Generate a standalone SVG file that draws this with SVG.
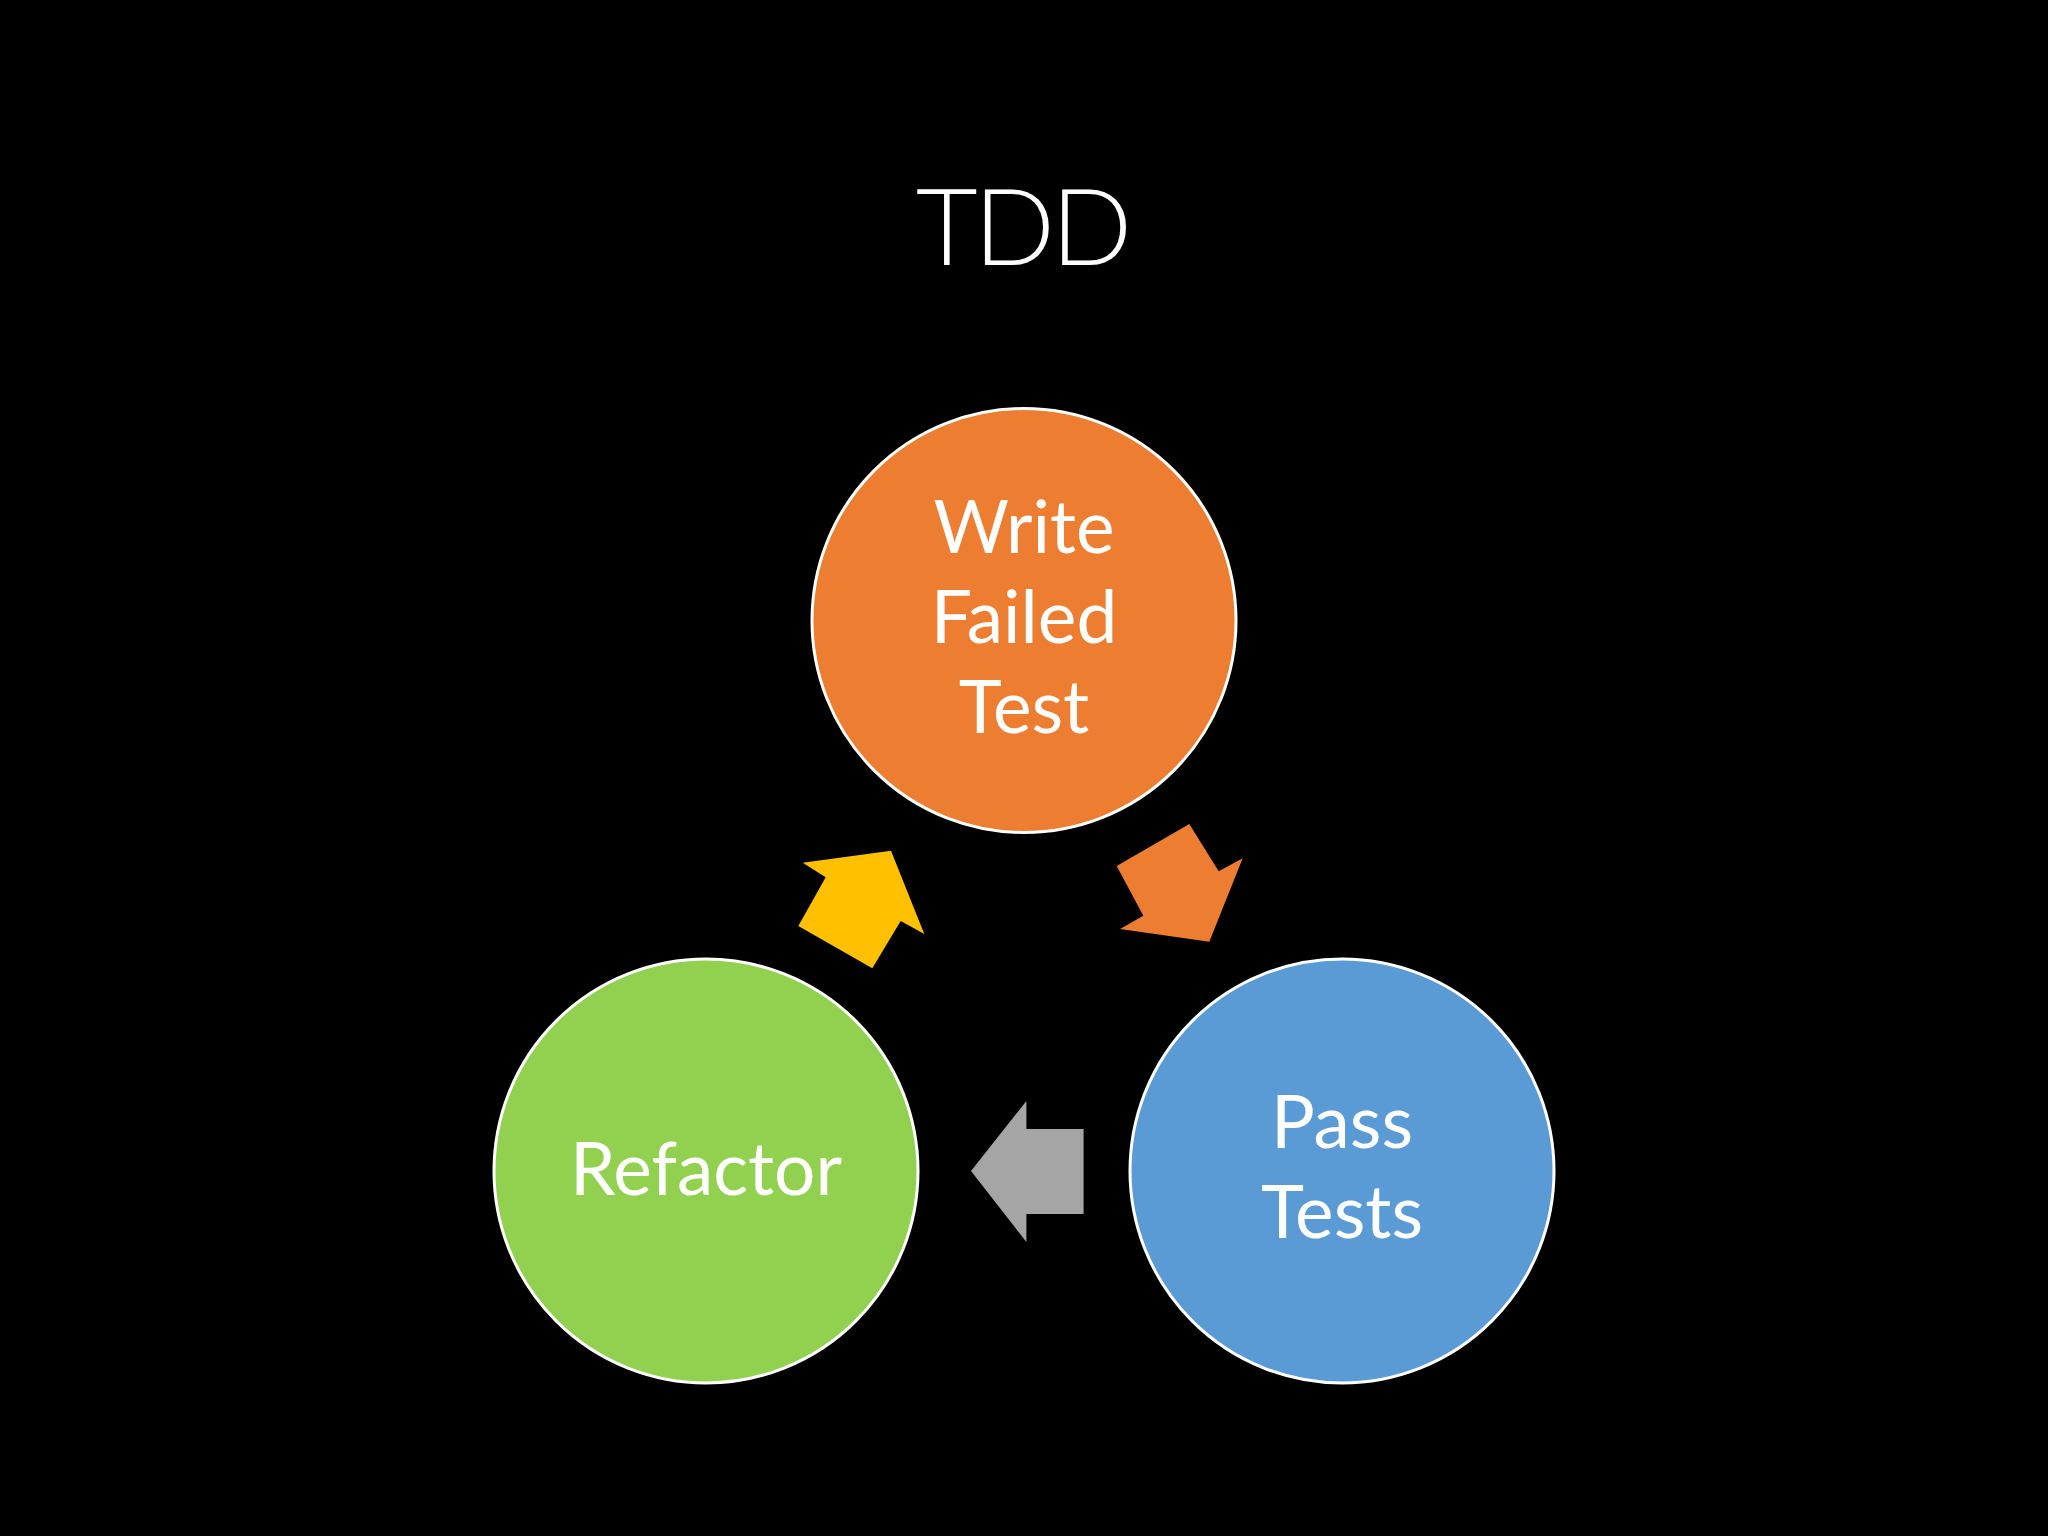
<svg xmlns="http://www.w3.org/2000/svg" width="2048" height="1536" viewBox="0 0 2048 1536">
<style>
.node circle{stroke:#ffffff;stroke-width:3}
.lbl{font-family:Lato,"Open Sans","Liberation Sans",sans-serif;font-size:73px;fill:#ffffff;text-anchor:middle}
.title{font-family:Lato,"Open Sans","Liberation Sans",sans-serif;font-size:107px;font-weight:300;letter-spacing:-4px;fill:#ffffff;text-anchor:middle}
</style>
<rect width="2048" height="1536" fill="#000000"/>
<text class="title" x="1022" y="265">TDD</text>
<g id="node-write" class="node">
<circle cx="1024" cy="620.5" r="212" fill="#ED7D31"/>
<text class="lbl" x="1024" y="553">Write</text>
<text class="lbl" x="1024" y="643">Failed</text>
<text class="lbl" x="1024" y="733">Test</text>
</g>
<g id="node-pass" class="node">
<circle cx="1342" cy="1171" r="212" fill="#5B9BD5"/>
<text class="lbl" x="1342" y="1148">Pass</text>
<text class="lbl" x="1342" y="1238">Tests</text>
</g>
<g id="node-refactor" class="node">
<circle cx="706" cy="1171" r="212" fill="#92D050"/>
<text class="lbl" x="706" y="1195">Refactor</text>
</g>
<g id="connectors">
<polygon fill="#ED7D31" points="1116.7,866 1189.3,824 1218.7,871.3 1242.7,858.3 1209.3,941.7 1120,929 1143.3,915.7"/>
<polygon fill="#A5A5A6" points="971,1171 1026.4,1101 1026.4,1129 1083.6,1129 1083.6,1214 1026.4,1214 1026.4,1242"/>
<polygon fill="#FFC000" points="802.7,862.7 891,850.7 924.3,934 900.7,921 872.3,968.3 798.3,926 825.7,877.3"/>
</g>
</svg>
